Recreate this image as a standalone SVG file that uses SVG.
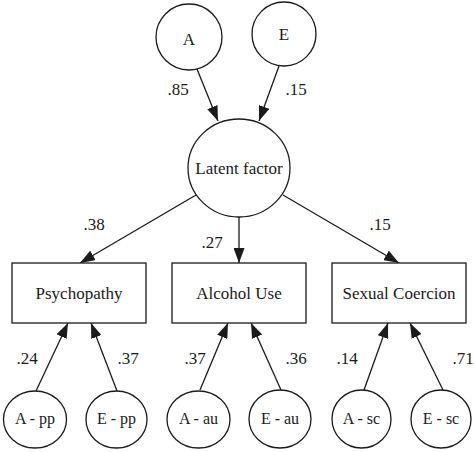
<svg xmlns="http://www.w3.org/2000/svg" width="474" height="452" viewBox="0 0 474 452">
<style>
.n{fill:#fff;stroke:#1a1a1a;stroke-width:1.3}
.e{stroke:#1a1a1a;stroke-width:1.3;fill:none;marker-end:url(#ah)}
text{font-family:"Liberation Serif","Times New Roman",serif;font-size:17px;fill:#1a1a1a;text-anchor:middle}
.s{font-size:16px}
</style>
<defs>
<marker id="ah" markerUnits="userSpaceOnUse" markerWidth="15" markerHeight="11" refX="15" refY="5.5" orient="auto">
<path d="M0,0 L15,5.5 L0,11 z" fill="#1a1a1a"/>
</marker>
</defs>
<rect width="474" height="452" fill="#fff"/>
<g id="connectors">
<line class="e" x1="197" y1="69" x2="218" y2="121"/>
<line class="e" x1="279" y1="66" x2="259" y2="121"/>
<line class="e" x1="196" y1="195" x2="80" y2="263"/>
<line class="e" x1="239" y1="217" x2="239" y2="263"/>
<line class="e" x1="283" y1="195" x2="399" y2="263"/>
<line class="e" x1="36" y1="391" x2="68" y2="323"/>
<line class="e" x1="117" y1="391" x2="91" y2="323"/>
<line class="e" x1="200" y1="390" x2="228" y2="323"/>
<line class="e" x1="281" y1="390" x2="251" y2="323"/>
<line class="e" x1="364" y1="390" x2="388" y2="323"/>
<line class="e" x1="443" y1="390" x2="410" y2="323"/>
<text x="178" y="95">.85</text>
<text x="296" y="95">.15</text>
<text x="94" y="230">.38</text>
<text x="212" y="248">.27</text>
<text x="380" y="230">.15</text>
<text x="27" y="364">.24</text>
<text x="128" y="364">.37</text>
<text x="195" y="364">.37</text>
<text x="296" y="364">.36</text>
<text x="347" y="364">.14</text>
<text x="463" y="364">.71</text>
</g>
<g id="A"><circle class="n" cx="189" cy="37" r="33"/><text x="189" y="45">A</text></g>
<g id="E"><circle class="n" cx="284" cy="34" r="32"/><text x="284" y="40">E</text></g>
<g id="latent"><ellipse class="n" cx="239" cy="168" rx="51" ry="49"/><text x="239" y="174">Latent factor</text></g>
<g id="psychopathy"><rect class="n" x="12" y="263" width="134" height="60"/><text x="79" y="299">Psychopathy</text></g>
<g id="alcohol"><rect class="n" x="172" y="263" width="134" height="60"/><text x="239" y="299">Alcohol Use</text></g>
<g id="sexual"><rect class="n" x="332" y="263" width="134" height="60"/><text x="399" y="299">Sexual Coercion</text></g>
<g id="App"><ellipse class="n" cx="35" cy="419.5" rx="31.5" ry="28.5"/><text class="s" x="35" y="424">A - pp</text></g>
<g id="Epp"><ellipse class="n" cx="116.5" cy="419.5" rx="30.5" ry="28.5"/><text class="s" x="116.5" y="424">E - pp</text></g>
<g id="Aau"><ellipse class="n" cx="198.5" cy="419.5" rx="31.5" ry="28.5"/><text class="s" x="198.5" y="424">A - au</text></g>
<g id="Eau"><ellipse class="n" cx="280" cy="419" rx="31" ry="29"/><text class="s" x="280" y="424">E - au</text></g>
<g id="Asc"><ellipse class="n" cx="361.5" cy="419" rx="29.5" ry="29"/><text class="s" x="361.5" y="424">A - sc</text></g>
<g id="Esc"><ellipse class="n" cx="441" cy="419" rx="30" ry="29"/><text class="s" x="441" y="424">E - sc</text></g>
</svg>
